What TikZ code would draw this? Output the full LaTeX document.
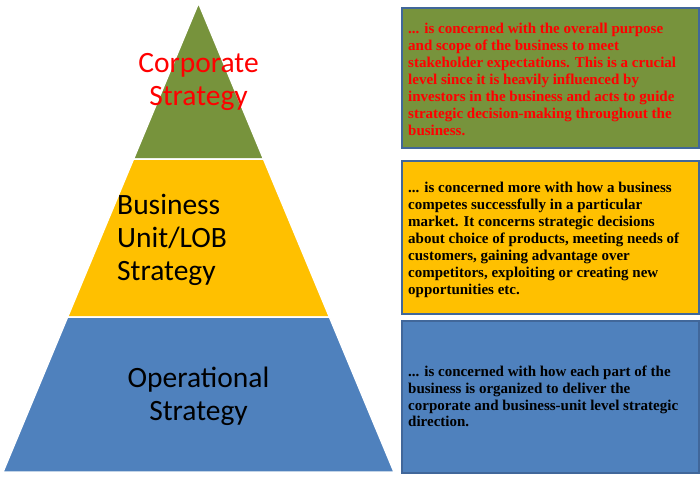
\documentclass[tikz,border=0pt]{standalone}
\usepackage{fontspec}
\setmainfont{Liberation Serif}
\newfontfamily\calib{Carlito}
\usetikzlibrary{positioning}
\definecolor{corpgreen}{HTML}{77933C}
\definecolor{buyellow}{HTML}{FFC000}
\definecolor{opblue}{HTML}{4F81BD}
\definecolor{boxline}{HTML}{41679A}
\begin{document}
\begin{tikzpicture}[x=1pt, y=-1pt,
	band/.style = {draw=white, line width=1.5pt},
	level/.style = {font=\calib\fontsize{29.5}{33}\selectfont, inner sep=0pt},
	descbox/.style = {draw=boxline, line width=2pt, minimum width=297pt, inner sep=0pt},
	note/.style = {font=\bfseries\fontsize{15}{16.9}\selectfont, align=left, inner sep=0pt}]
	\useasboundingbox (0,0) rectangle (700,476);
	
	%Pyramid bands
	\coordinate (apex) at (198.5,3);
	\fill[corpgreen, band] (apex) -- (263.5,159) -- (133.5,159) -- cycle;
	\fill[buyellow, band] (133.5,159) -- (263.5,159) -- (329.4,317) -- (67.6,317) -- cycle;
	\fill[opblue, band] (67.6,317) -- (329.4,317) -- (394,472) -- (3,472) -- cycle;
	
	%Level names
	\node[level, red, align=center] (corp) at (198.5,81.5) {Corporate\\Strategy};
	\node[level, align=left, anchor=west] (bu) at (117,239.5) {Business\\Unit/LOB\\Strategy};
	\node[level, align=center] (oper) at (198.5,396.5) {Operational\\Strategy};
	
	%Description boxes
	\node[descbox, fill=corpgreen, minimum height=140pt, anchor=north west] (gbox) at (401,7) {};
	\node[descbox, fill=buyellow, minimum height=153pt, below=11pt of gbox] (ybox) {};
	\node[descbox, fill=opblue, minimum height=152pt, below=5pt of ybox] (bbox) {};
	
	\node[note, red, below right=16pt and 7pt of gbox.north west] (gtext) {%
		... is concerned with the overall purpose\\
		and scope of the business to meet\\
		stakeholder expectations. This is a crucial\\
		level since it is heavily influenced by\\
		investors in the business and acts to guide\\
		strategic decision-making throughout the\\
		business.};
	\node[note, below right=22pt and 7pt of ybox.north west] (ytext) {%
		... is concerned more with how a business\\
		competes successfully in a particular\\
		market. It concerns strategic decisions\\
		about choice of products, meeting needs of\\
		customers, gaining advantage over\\
		competitors, exploiting or creating new\\
		opportunities etc.};
	\node[note, below right=45.5pt and 7pt of bbox.north west] (btext) {%
		... is concerned with how each part of the\\
		business is organized to deliver the\\
		corporate and business-unit level strategic\\
		direction.};
\end{tikzpicture}
\end{document}
